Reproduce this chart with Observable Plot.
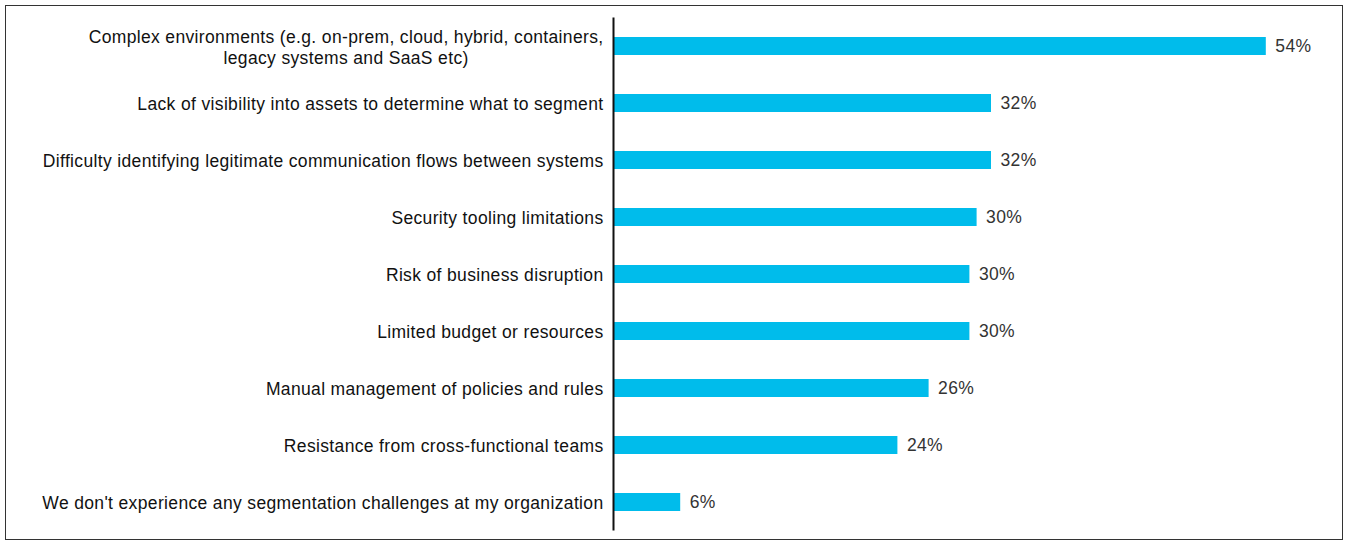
<!DOCTYPE html>
<html>
<head>
<meta charset="utf-8">
<script src="https://cdn.jsdelivr.net/npm/d3@7"></script>
<script src="https://cdn.jsdelivr.net/npm/@observablehq/plot@0.6"></script>
<style>
  html, body { margin: 0; padding: 0; background: #fff; }
  #wrap { position: relative; width: 1353px; height: 550px; }
  #frame { position: absolute; left: 5px; top: 5px; width: 1336px; height: 533px; border: 1.5px solid #333; pointer-events: none; }
  #chart { position: absolute; left: 0; top: 0; }
  #chart svg text { letter-spacing: 0.35px; }
</style>
</head>
<body>
<div id="wrap"><div id="chart"></div><div id="frame"></div></div>
<script>
const categories = [
  "Complex environments (e.g. on-prem, cloud, hybrid, containers,\nlegacy systems and SaaS etc)",
  "Lack of visibility into assets to determine what to segment",
  "Difficulty identifying legitimate communication flows between systems",
  "Security tooling limitations",
  "Risk of business disruption",
  "Limited budget or resources",
  "Manual management of policies and rules",
  "Resistance from cross-functional teams",
  "We don't experience any segmentation challenges at my organization"
];
const values = [54.4, 31.5, 31.5, 30.3, 29.7, 29.7, 26.3, 23.7, 5.6];
const valueLabels = ["54%", "32%", "32%", "30%", "30%", "30%", "26%", "24%", "6%"];

const data = categories.map((c, i) => ({category: c, value: values[i], label: valueLabels[i]}));
const FONT = "'Liberation Sans', Arial, sans-serif";

const chart = Plot.plot({
  width: 1353,
  height: 550,
  marginLeft: 613,
  marginRight: 20,
  marginTop: 17.5,
  marginBottom: 19.5,
  style: {fontFamily: FONT, background: "transparent"},
  x: {domain: [0, 60], axis: null},
  y: {domain: categories, paddingInner: 0.687, paddingOuter: 0.3, axis: null},
  marks: [
    Plot.barX(data, {y: "category", x: "value", fill: "#00BCEB"}),
    Plot.text(data, {y: "category", x: 0, text: "category", textAnchor: "end", lineAnchor: "middle",
      dx: -10, fontSize: 17.5, fill: "#111", lineHeight: 1.2, className: "cat-label"}),
    Plot.text(data, {y: "category", x: "value", text: "label", textAnchor: "start", dx: 9,
      fontSize: 17.5, fill: "#333"}),
    Plot.ruleX([0], {stroke: "#111", strokeWidth: 2})
  ]
});
document.getElementById("chart").appendChild(chart);

// center the lines of multi-line category labels within their right-aligned block
chart.querySelectorAll(".cat-label text").forEach(t => {
  const spans = t.querySelectorAll("tspan");
  if (spans.length > 1) {
    const w = t.getBBox().width;
    t.setAttribute("text-anchor", "middle");
    spans.forEach(s => s.setAttribute("x", -w / 2));
  }
});
</script>
</body>
</html>
